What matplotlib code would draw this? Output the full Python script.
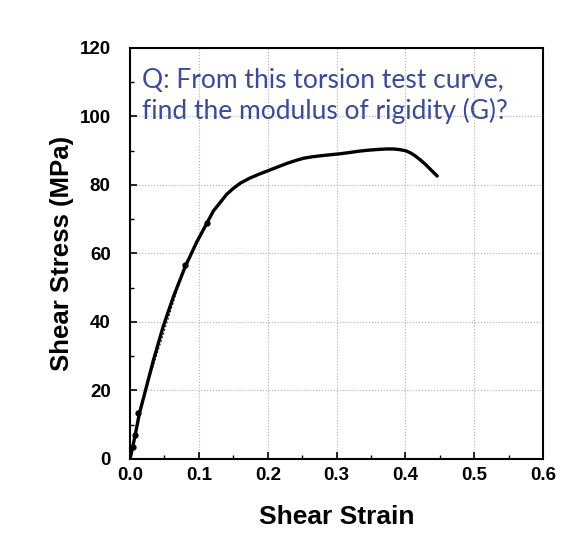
import matplotlib
matplotlib.use("Agg")
import matplotlib.pyplot as plt
from matplotlib.ticker import MultipleLocator

# Main torsion curve (shear strain, shear stress MPa)
strain = [0.0, 0.007, 0.0136, 0.022, 0.034, 0.048, 0.063, 0.080, 0.097, 0.112,
          0.121, 0.131, 0.140, 0.150, 0.160, 0.174, 0.188, 0.201, 0.215, 0.228,
          0.240, 0.252, 0.264, 0.276, 0.290, 0.305, 0.320, 0.334, 0.349, 0.363,
          0.373, 0.383, 0.392, 0.400, 0.407, 0.414, 0.421, 0.429, 0.437, 0.446]
stress = [0.0, 6.5, 13.3, 19.7, 28.9, 38.6, 47.4, 56.1, 63.4, 69.0,
          72.4, 74.9, 77.2, 79.0, 80.5, 82.0, 83.2, 84.2, 85.3, 86.3,
          87.1, 87.8, 88.2, 88.5, 88.8, 89.1, 89.5, 89.9, 90.2, 90.4,
          90.5, 90.5, 90.3, 90.0, 89.4, 88.5, 87.4, 86.0, 84.4, 82.6]

# Scattered experimental points near the elastic region
pts_strain = [0.004, 0.007, 0.012, 0.08, 0.112]
pts_stress = [3.5, 7.0, 13.3, 56.6, 69.0]

xticks = [0.0, 0.1, 0.2, 0.3, 0.4, 0.5, 0.6]
yticks = [0, 20, 40, 60, 80, 100, 120]

question = "Q: From this torsion test curve,\nfind the modulus of rigidity (G)?"

plt.rcParams['font.family'] = ['Liberation Sans', 'DejaVu Sans']

fig = plt.figure(figsize=(5.73, 5.45), dpi=100)
ax = fig.add_axes([0.227, 0.158, 0.721, 0.754])

ax.plot(strain, stress, color='black', lw=2.4, solid_capstyle='round',
        solid_joinstyle='round', zorder=3)
ax.plot(pts_strain, pts_stress, 'o', color='black', ms=3.5, zorder=3)
ax.plot(pts_strain, pts_stress, ls=(0, (2, 2)), color='black', lw=0.7, zorder=3)

ax.set_xlim(0, 0.6)
ax.set_ylim(0, 120)
ax.set_xticks(xticks)
ax.set_yticks(yticks)
ax.set_xticklabels([f"{v:.1f}" for v in xticks], fontweight='bold', fontsize=13.5)
ax.set_yticklabels([str(v) for v in yticks], fontweight='bold', fontsize=13.5)
ax.xaxis.set_minor_locator(MultipleLocator(0.05))
ax.yaxis.set_minor_locator(MultipleLocator(10))
ax.tick_params(which='major', direction='in', length=5, width=1.2, pad=6)
ax.tick_params(axis='y', which='major', pad=14)
ax.tick_params(which='minor', direction='in', length=3, width=1.0)
for s in ax.spines.values():
    s.set_linewidth(1.5)

ax.grid(True, which='major', ls=':', color='#b0b0b0', lw=0.8)
ax.set_axisbelow(True)

ax.set_xlabel("Shear Strain", fontweight='bold', fontsize=19, labelpad=15)
ax.set_ylabel("Shear Stress (MPa)", fontweight='bold', fontsize=18.5, labelpad=4)

fig.text(0.248, 0.773, question, color='#3a4a9e', fontsize=19,
         family=['Lato', 'DejaVu Sans'], linespacing=1.2, va='bottom')

fig.savefig("out.png", dpi=100)
